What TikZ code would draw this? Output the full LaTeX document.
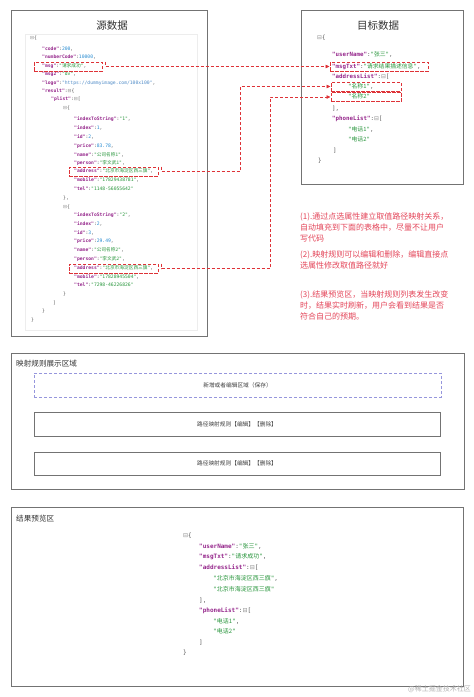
\documentclass[tikz,border=0pt]{standalone}
\usepackage{fontspec}
\setmainfont{Noto Sans CJK SC}
\newfontfamily\mono{DejaVu Sans Mono}
\newfontfamily\cjk{Noto Sans CJK SC}
\newfontfamily\sym{DejaVu Sans}
\usetikzlibrary{arrows.meta}
\definecolor{keyc}{RGB}{150,40,140}
\definecolor{strc}{RGB}{40,150,60}
\definecolor{numc}{RGB}{40,140,210}
\definecolor{urlc}{RGB}{80,140,200}
\definecolor{punc}{RGB}{85,85,85}
\definecolor{foldc}{RGB}{140,140,140}
\definecolor{redc}{RGB}{222,50,55}
\definecolor{notec}{RGB}{228,70,90}
\definecolor{panelc}{RGB}{115,115,115}
\definecolor{lavc}{RGB}{150,150,220}
\newcommand\JK[1]{\textcolor{keyc}{\bfseries"#1"}}
\newcommand\JS[1]{\textcolor{strc}{"#1"}}
\newcommand\JC[1]{\textcolor{strc}{"{\cjk #1}"}}
\newcommand\JN[1]{\textcolor{numc}{#1}}
\newcommand\JU[1]{\textcolor{urlc}{"#1"}}
\newcommand\FOLD{{\sym\textcolor{foldc}{⊟}}}
\tikzset{
  panel/.style={draw=panelc, line width=1pt, inner sep=0pt},
  src/.style={anchor=west, inner sep=0pt, text=punc, font=\mono\fontsize{4.7}{5}\selectfont, text height=3.4pt, text depth=1pt},
  tgt/.style={anchor=west, inner sep=0pt, text=punc, font=\mono\fontsize{5.8}{6}\selectfont, text height=4.2pt, text depth=1.2pt},
  res/.style={anchor=west, inner sep=0pt, text=punc, font=\mono\fontsize{6}{6.5}\selectfont, text height=4.3pt, text depth=1.2pt},
  ttl/.style={inner sep=0pt, text=black!80, font=\fontsize{10.5}{12}\selectfont},
  lbl/.style={anchor=west, inner sep=0pt, text=black!80, font=\fontsize{7.6}{9}\selectfont},
  note/.style={anchor=west, inner sep=0pt, text=notec, font=\fontsize{8}{9}\selectfont},
  btn/.style={draw=panelc, line width=0.8pt, inner sep=0pt, text=black!75, font=\fontsize{5.7}{6}\selectfont},
  rbox/.style={draw=redc, line width=1pt, dash pattern=on 3.5pt off 1.5pt, inner sep=0pt},
  conn/.style={draw=redc, line width=0.7pt, dash pattern=on 3pt off 2pt, -{Triangle[length=4pt,width=3.5pt]}}
}
\begin{document}
\begin{tikzpicture}[x=1pt,y=-1pt]
\useasboundingbox (0,0) rectangle (474,697);
\fill[white] (0,0) rectangle (474,697);

% ---------- panels ----------
\node[panel, minimum width=196, minimum height=326] (srcp) at (109,173) {};
\node[panel, minimum width=162, minimum height=174] (tgtp) at (382,97) {};
\draw[black!7, line width=0.4pt] (25,34) rectangle (197,330);
\node[ttl] (srct) at (112,26) {源数据};
\node[ttl] (tgtt) at (378,26) {目标数据};

% ---------- source json ----------
\node[src] (s1)  at (30,38)  {\FOLD\{};
\node[src] (s2)  at (42,49)  {\JK{code}:\JN{200},};
\node[src] (s3)  at (42,57.5)  {\JK{numberCode}:\JN{10000},};
\node[src] (s4)  at (42,66.5)  {\JK{msg}:\JC{请求成功},};
\node[src] (s5)  at (42,74.5)  {\JK{msg2}:\JS{dv},};
\node[src] (s6)  at (42,83)  {\JK{logo}:\JU{https://dummyimage.com/100x100},};
\node[src] (s7)  at (42,91)  {\JK{result}:\FOLD\{};
\node[src] (s8)  at (51,99)  {\JK{plist}:\FOLD[};
\node[src] (s9)  at (63,108) {\FOLD\{};
\node[src] (s10) at (74,119) {\JK{indexToString}:\JS{1},};
\node[src] (s11) at (74,128) {\JK{index}:\JN{1},};
\node[src] (s12) at (74,137) {\JK{id}:\JN{2},};
\node[src] (s13) at (74,146) {\JK{price}:\JN{83.78},};
\node[src] (s14) at (74,155) {\JK{name}:\JC{公司名称1},};
\node[src] (s15) at (74,163) {\JK{person}:\JC{李文武1},};
\node[src] (s16) at (74,171.5) {\JK{address}:\JC{北京市海淀区西三旗},};
\node[src] (s17) at (74,180) {\JK{mobile}:\JS{17829438781},};
\node[src] (s18) at (74,189) {\JK{tel}:\JS{1148-56055642}};
\node[src] (s19) at (63,198) {\},};
\node[src] (s20) at (63,207) {\FOLD\{};
\node[src] (s21) at (74,215.5) {\JK{indexToString}:\JS{2},};
\node[src] (s22) at (74,224) {\JK{index}:\JN{2},};
\node[src] (s23) at (74,233) {\JK{id}:\JN{3},};
\node[src] (s24) at (74,241.5) {\JK{price}:\JN{29.49},};
\node[src] (s25) at (74,250) {\JK{name}:\JC{公司名称2},};
\node[src] (s26) at (74,259) {\JK{person}:\JC{李文武2},};
\node[src] (s27) at (74,268.5) {\JK{address}:\JC{北京市海淀区西三旗},};
\node[src] (s28) at (74,277) {\JK{mobile}:\JS{17828945504},};
\node[src] (s29) at (74,285.5) {\JK{tel}:\JS{7298-46226826}};
\node[src] (s30) at (63,294) {\}};
\node[src] (s31) at (53,303) {]};
\node[src] (s32) at (42,311.5) {\}};
\node[src] (s33) at (31,320) {\}};

% ---------- target json ----------
\node[tgt] (t1)  at (317,38)  {\FOLD\{};
\node[tgt] (t2)  at (332,55)  {\JK{userName}:\JC{张三},};
\node[tgt] (t3)  at (332,66.5)  {\JK{msgTxt}:\JC{请求结果描述信息},};
\node[tgt] (t4)  at (332,76.5)  {\JK{addressList}:\FOLD[};
\node[tgt] (t5)  at (348,87)  {\JC{名称1},};
\node[tgt] (t6)  at (348,97)  {\JC{名称2}};
\node[tgt] (t7)  at (332,109) {],};
\node[tgt] (t8)  at (332,119) {\JK{phoneList}:\FOLD[};
\node[tgt] (t9)  at (348,130) {\JC{电话1},};
\node[tgt] (t10) at (348,140) {\JC{电话2}};
\node[tgt] (t11) at (333,151) {]};
\node[tgt] (t12) at (318,161) {\}};

% ---------- red dashed selection boxes ----------
\node[rbox, minimum width=68, minimum height=9] (msgbox) at (68,66.5) {};
\node[rbox, minimum width=89, minimum height=9] (addr1) at (113.5,171.5) {};
\node[rbox, minimum width=89, minimum height=9] (addr2) at (113.5,268.5) {};
\node[rbox, minimum width=98, minimum height=9] (tmsg) at (379,66.5) {};
\node[rbox, minimum width=70, minimum height=9] (tn1) at (366,86.5) {};
\node[rbox, minimum width=70, minimum height=9.5] (tn2) at (366,97) {};

% ---------- connectors ----------
\coordinate (e1) at (240,0);
\coordinate (e2) at (270,0);
\draw[conn] ([xshift=3pt]msgbox.north east) |- (tmsg.west);
\draw[conn] ([xshift=3pt]addr1.north east) |- (addr1.east -| e1) |- (tn1.west);
\draw[conn] ([xshift=3pt]addr2.north east) |- (addr2.east -| e2) |- (tn2.west);

% ---------- notes ----------
\node[note] (n1) at (300,217) {(1).通过点选属性建立取值路径映射关系，};
\node[note] (n2) at (300,227.5) {自动填充到下面的表格中，尽量不让用户};
\node[note] (n3) at (300,238.3) {写代码};
\node[note] (n4) at (300,255) {(2).映射规则可以编辑和删除，编辑直接点};
\node[note] (n5) at (300,265.7) {选属性修改取值路径就好};
\node[note] (n6) at (300,294.5) {(3).结果预览区，当映射规则列表发生改变};
\node[note] (n7) at (300,305.5) {时，结果实时刷新，用户会看到结果是否};
\node[note] (n8) at (300,316.5) {符合自己的预期。};

% ---------- rules area ----------
\node[panel, minimum width=453, minimum height=136] (rulep) at (237.5,421) {};
\node[lbl] (rulel) at (16,364) {映射规则展示区域};
\node[btn, draw=lavc, dash pattern=on 3pt off 2pt, minimum width=407, minimum height=24] (edit) at (237.5,385) {新增或者编辑区域（保存）};
\node[btn, minimum width=406, minimum height=24] (rule1) at (237,424) {路径映射规则【编辑】【删除】};
\node[btn, minimum width=406, minimum height=23] (rule2) at (237,463.5) {路径映射规则【编辑】【删除】};

% ---------- result area ----------
\node[panel, minimum width=452, minimum height=179] (resp) at (237,596.5) {};
\node[lbl] (resl) at (16,519) {结果预览区};
\node[res] (r1)  at (183,536) {\FOLD\{};
\node[res] (r2)  at (199,547) {\JK{userName}:\JC{张三},};
\node[res] (r3)  at (199,557) {\JK{msgTxt}:\JC{请求成功},};
\node[res] (r4)  at (199,568) {\JK{addressList}:\FOLD[};
\node[res] (r5)  at (213,579) {\JC{北京市海淀区西三旗},};
\node[res] (r6)  at (213,590) {\JC{北京市海淀区西三旗}};
\node[res] (r7)  at (199,600.5) {],};
\node[res] (r8)  at (199,611) {\JK{phoneList}:\FOLD[};
\node[res] (r9)  at (213,621.5) {\JC{电话1},};
\node[res] (r10) at (213,632) {\JC{电话2}};
\node[res] (r11) at (199,643) {]};
\node[res] (r12) at (183,653) {\}};

\node[anchor=east, inner sep=0pt, text=black!30, font=\fontsize{7}{8}\selectfont] (wm) at (471,689.5) {@稀土掘金技术社区};
\end{tikzpicture}
\end{document}
